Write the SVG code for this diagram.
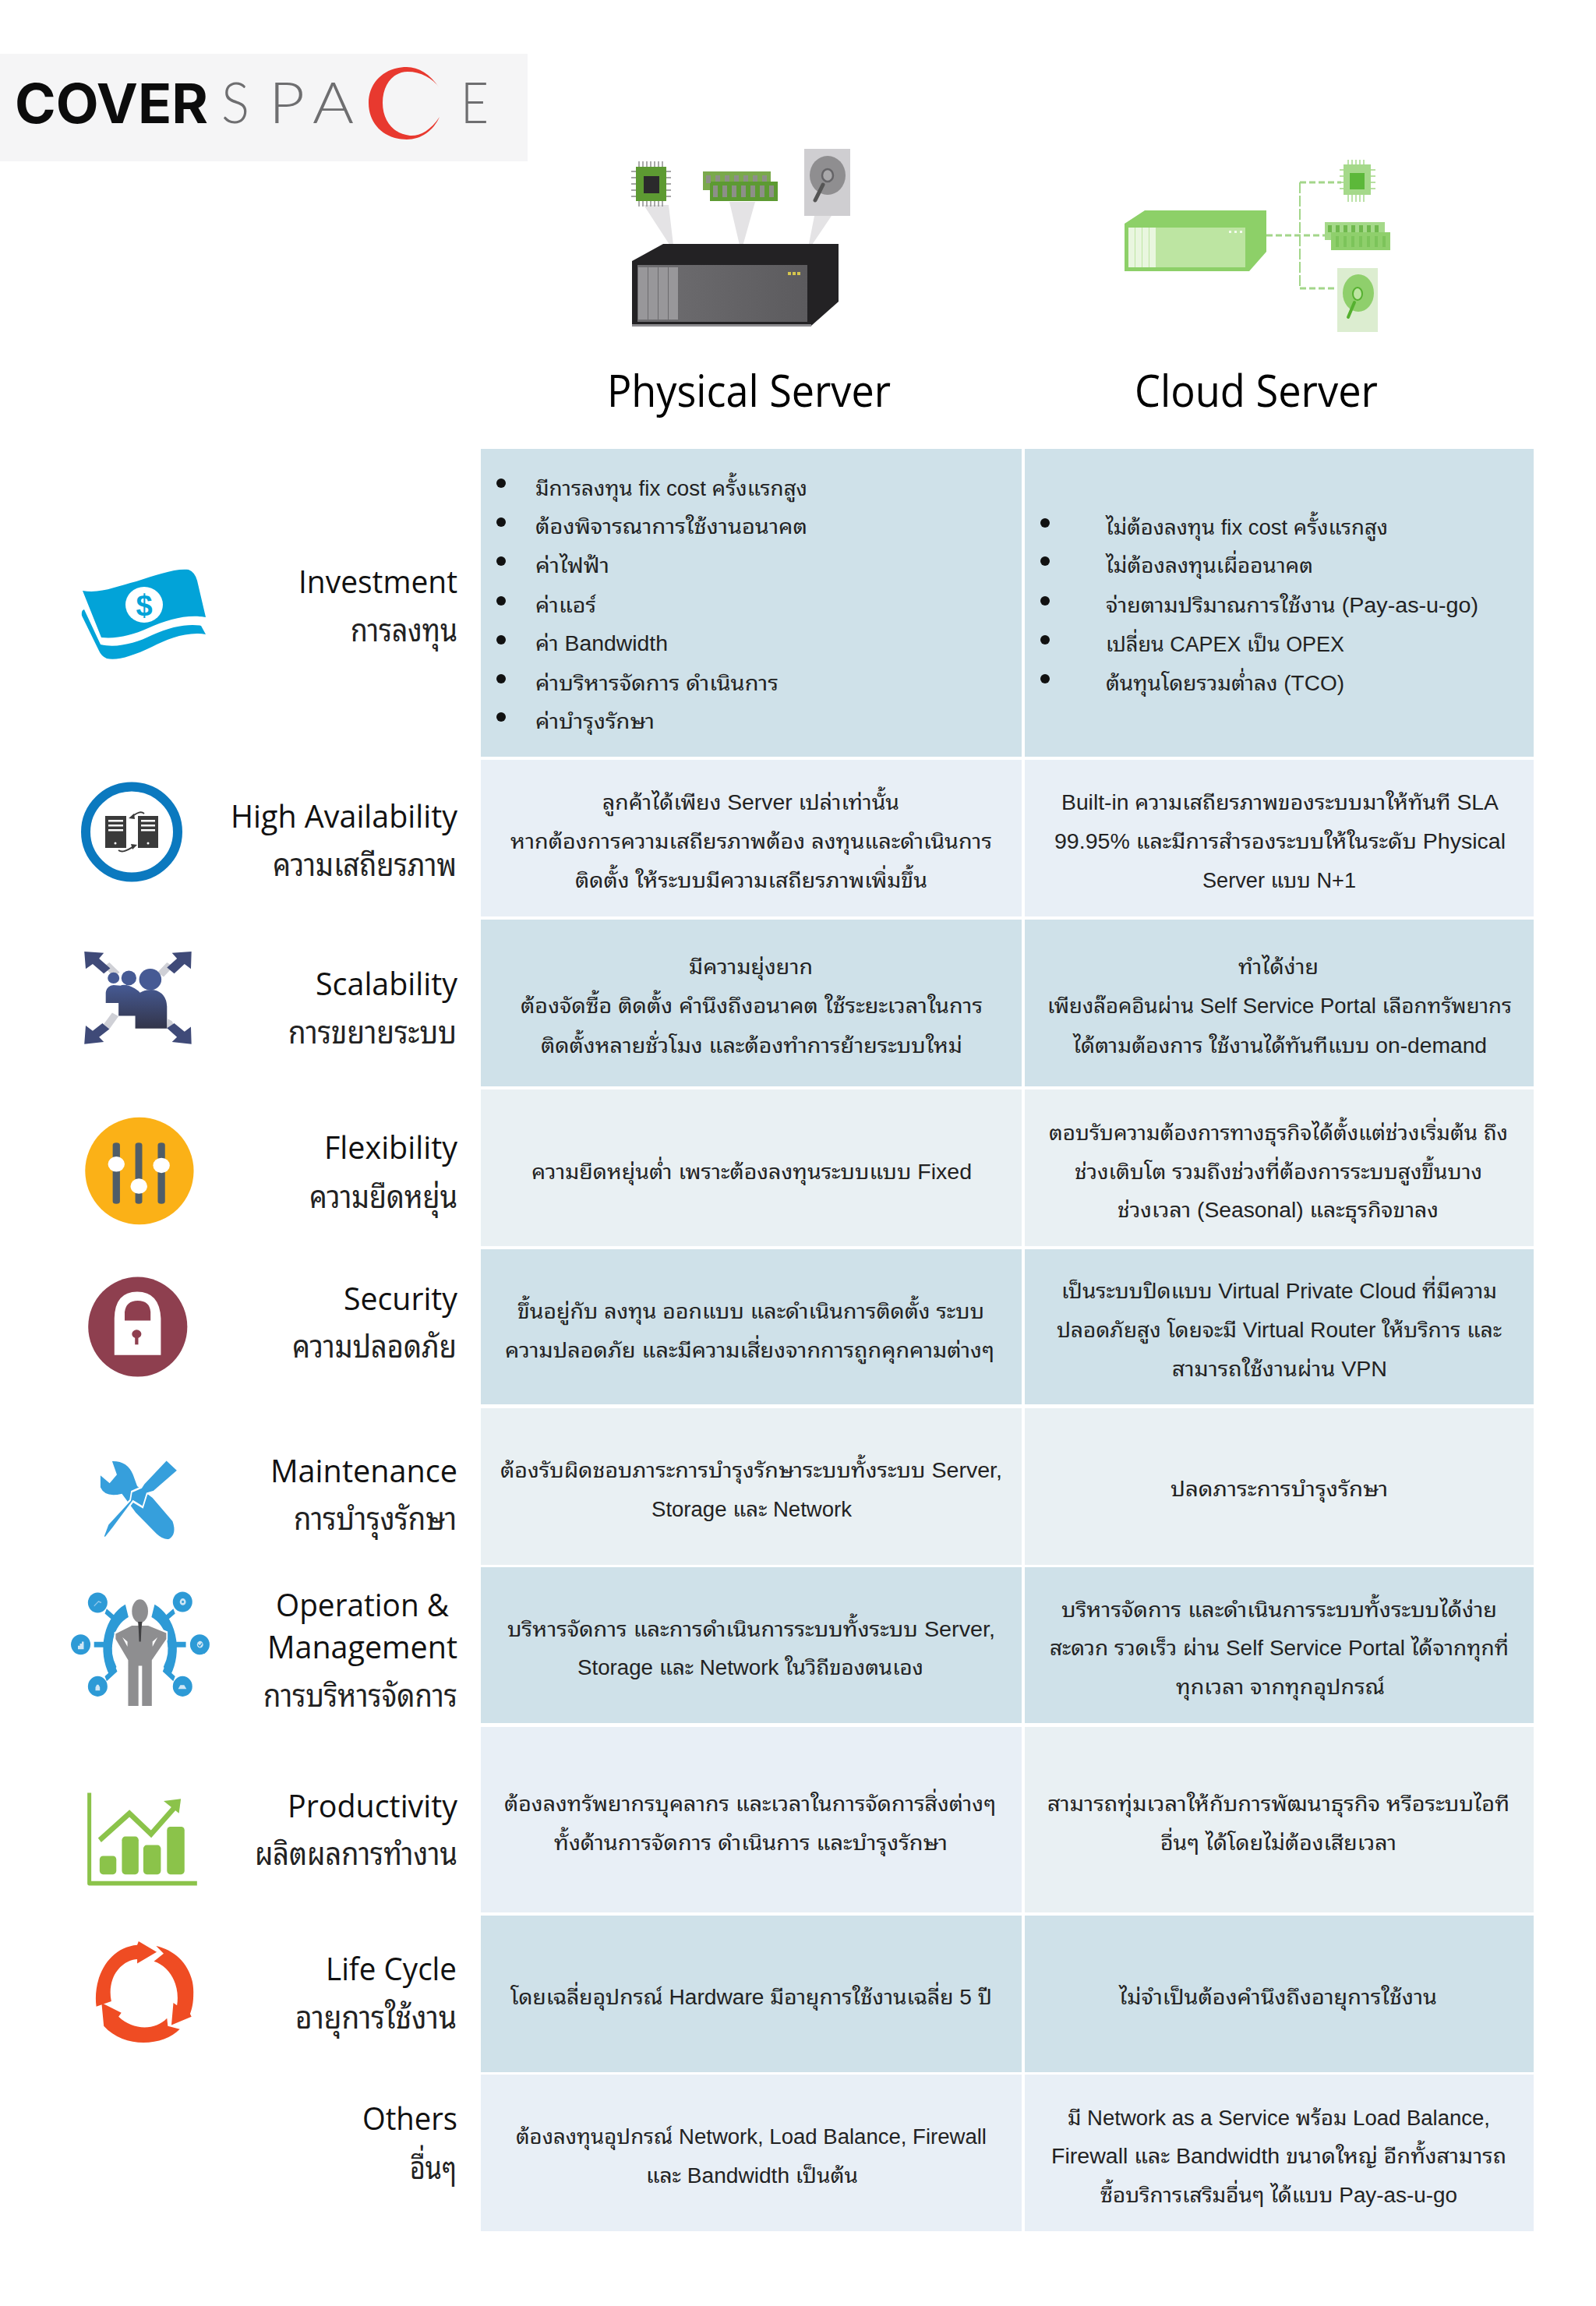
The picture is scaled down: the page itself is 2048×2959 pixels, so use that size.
<svg xmlns="http://www.w3.org/2000/svg" width="2048" height="2959" viewBox="0 0 2048 2959">
<defs>
<style>
.d{fill:#cfe1e9}.l{fill:#e8eff6}.m{fill:#e9f0f3}
.b{font-family:"Liberation Sans","Noto Sans Thai Looped","Noto Serif Thai",Loma,Garuda,"Noto Sans",sans-serif;font-size:27px;fill:#222}
.h{font-family:"Open Sans","Noto Sans",sans-serif;font-size:40px;fill:#111}
.t{font-family:"Open Sans","Noto Sans Thai Looped","Noto Serif Thai",Loma,Garuda,"Noto Sans",sans-serif;font-size:41px;fill:#222}
.ti{font-family:"Open Sans","Noto Sans",sans-serif;font-size:56px;fill:#000}
.g{font-family:Lato,Inter,sans-serif;font-size:72px;font-weight:300;fill:#6e6e70}
.dash{fill:none;stroke:#a3d68a}
</style>
<linearGradient id="sg" x1="0" y1="0" x2="0" y2="1"><stop offset="0" stop-color="#465a94"/><stop offset="1" stop-color="#33354a"/></linearGradient>
<linearGradient id="pg" x1="0" y1="0" x2="1" y2="0"><stop offset="0" stop-color="#6f6e71"/><stop offset="1" stop-color="#5c5b5e"/></linearGradient>
</defs>
<rect width="2048" height="2959" fill="#fff"/>

<g id="logo">
<rect x="0" y="69" width="677" height="138" fill="#f5f5f6"/>
<text x="19" y="158" font-family="Inter,Lato,sans-serif" font-size="70" font-weight="700" fill="#0c0c0c" textLength="248" lengthAdjust="spacingAndGlyphs">COVER</text>
<text class="g" x="284" y="158" textLength="36" lengthAdjust="spacingAndGlyphs">S</text>
<text class="g" x="345" y="158" textLength="46" lengthAdjust="spacingAndGlyphs">P</text>
<text class="g" x="401" y="158" textLength="53" lengthAdjust="spacingAndGlyphs">A</text>
<path d="M564,113C552,95 537,86 522,86C494,86 473,105 473,132C473,160 494,179 522,179C540,179 556,168 564,150C552,168 538,175 526,174C505,172 491,155 491,132C491,108 505,92 523,92C540,92 555,100 564,113Z" fill="#e8392f"/>
<text class="g" x="591" y="158" textLength="36" lengthAdjust="spacingAndGlyphs">E</text>
</g>

<g id="physical-server">
<path d="M826,263H858L865,323ZM936,259H969L951,323ZM1045,277H1067L1036,323Z" fill="#e4e3e5"/>
<path d="M811,335L851,313H1076V387L1041,418H811Z" fill="#232224"/>
<rect x="818" y="340" width="218" height="73" fill="url(#pg)"/>
<path d="M819,343h12v67h-12zM832,343h12v67h-12zM845,343h12v67h-12zM858,343h12v67h-12z" fill="#98979a"/>
<rect x="811" y="416" width="230" height="3" fill="#8d8c8f"/>
<path d="M1011,349h4v4h-4zM1017,349h4v4h-4zM1023,349h4v4h-4z" fill="#d6c64e"/>
<path d="M820,207v58M825,207v58M830,207v58M835,207v58M840,207v58M845,207v58M850,207v58" stroke="#8f8f8f" stroke-width="1.500"/>
<path d="M810,220h51M810,228h51M810,236h51M810,244h51M810,252h51" stroke="#a5a5a5" stroke-width="2"/>
<rect x="816" y="214" width="39" height="44" fill="#5d9a32"/>
<rect x="826" y="226" width="20" height="22" fill="#2b2a2c"/>
<rect x="902" y="220" width="87" height="24" fill="#7aa94c"/>
<rect x="911" y="233" width="87" height="25" fill="#5d9a32"/>
<g fill="#8d8f88"><rect x="906" y="225" width="6" height="10"/><rect x="918" y="225" width="6" height="8"/><rect x="930" y="225" width="6" height="8"/><rect x="942" y="225" width="6" height="8"/><rect x="954" y="225" width="6" height="8"/><rect x="966" y="225" width="6" height="8"/><rect x="978" y="225" width="6" height="8"/><rect x="915" y="238" width="6" height="15"/><rect x="927" y="238" width="6" height="15"/><rect x="939" y="238" width="6" height="15"/><rect x="951" y="238" width="6" height="15"/><rect x="963" y="238" width="6" height="15"/><rect x="975" y="238" width="6" height="15"/><rect x="987" y="238" width="6" height="15"/></g>
<rect x="1032" y="191" width="59" height="86" fill="#cfced1"/>
<ellipse cx="1062" cy="225" rx="23" ry="25" fill="#8f8e90"/>
<ellipse cx="1062" cy="225" rx="7" ry="8" fill="#a9a8aa" stroke="#656467" stroke-width="2.500"/>
<path d="M1056,237L1046,257" stroke="#555" stroke-width="5" stroke-linecap="round"/>
</g>

<g id="cloud-server">
<path d="M1443,287L1469,270H1625V323L1603,348H1443Z" fill="#8dd068"/>
<rect x="1448" y="292" width="150" height="51" fill="#bde5a2"/>
<path d="M1448,292h8v51h-8zM1457,292h8v51h-8zM1466,292h8v51h-8zM1475,292h8v51h-8z" fill="#e9f6df"/>
<path d="M1577,296h3v3h-3zM1584,296h3v3h-3zM1591,296h3v3h-3z" fill="#f3faee"/>
<path d="M1730,205v54M1735,205v54M1740,205v54M1745,205v54M1750,205v54" stroke="#a5d98a" stroke-width="1.500"/>
<path d="M1719,218h46M1719,226h46M1719,234h46M1719,242h46" stroke="#b9e0a2" stroke-width="2"/>
<rect x="1724" y="211" width="35" height="39" fill="#a5d98a"/>
<rect x="1732" y="222" width="19" height="21" fill="#5cb83a"/>
<rect x="1700" y="285" width="77" height="23" fill="#a5d98a"/>
<rect x="1708" y="298" width="76" height="23" fill="#8fcf6c"/>
<path d="M1704,289h5v9h-5zM1714,289h5v9h-5zM1724,289h5v9h-5zM1734,289h5v9h-5zM1744,289h5v9h-5zM1754,289h5v9h-5zM1764,289h5v9h-5z" fill="#6fb84d"/>
<path d="M1714,303h4v14h-4zM1724,303h4v14h-4zM1734,303h4v14h-4zM1744,303h4v14h-4zM1754,303h4v14h-4zM1764,303h4v14h-4zM1774,303h4v14h-4z" fill="#7cc45a"/>
<rect x="1716" y="344" width="52" height="82" fill="#dcedd0"/>
<ellipse cx="1743" cy="376" rx="20" ry="24" fill="#8fcf6c"/>
<ellipse cx="1742" cy="377" rx="6" ry="8" fill="#bde5a2" stroke="#55b030" stroke-width="2"/>
<path d="M1738,388L1730,407" stroke="#55b030" stroke-width="4" stroke-linecap="round"/>
</g>

<g id="connectors">
<path class="dash" d="M1625,302H1701M1668,234H1721M1668,370H1716" stroke-width="3" stroke-dasharray="8 4"/>
<path class="dash" d="M1668,234V370" stroke-width="2" stroke-dasharray="14 3"/>
</g>

<g id="headings">
<text class="ti" x="779" y="522" textLength="364" lengthAdjust="spacingAndGlyphs">Physical Server</text>
<text class="ti" x="1456" y="522" textLength="312" lengthAdjust="spacingAndGlyphs">Cloud Server</text>
</g>

<g id="row-investment">
<rect class="d" x="617" y="576" width="694" height="395"/><rect class="d" x="1315" y="576" width="653" height="395"/>
<g fill="#111"><circle cx="643" cy="620" r="6"/><circle cx="643" cy="670" r="6"/><circle cx="643" cy="720" r="6"/><circle cx="643" cy="771" r="6"/><circle cx="643" cy="821" r="6"/><circle cx="643" cy="871" r="6"/><circle cx="643" cy="920" r="6"/><circle cx="1341" cy="671" r="6"/><circle cx="1341" cy="720" r="6"/><circle cx="1341" cy="771" r="6"/><circle cx="1341" cy="821" r="6"/><circle cx="1341" cy="871" r="6"/></g>
<text class="b" x="687" y="636" textLength="349" lengthAdjust="spacingAndGlyphs">มีการลงทุน fix cost ครั้งแรกสูง</text>
<text class="b" x="687" y="685" textLength="349" lengthAdjust="spacingAndGlyphs">ต้องพิจารณาการใช้งานอนาคต</text>
<text class="b" x="687" y="735" textLength="95" lengthAdjust="spacingAndGlyphs">ค่าไฟฟ้า</text>
<text class="b" x="687" y="786" textLength="78" lengthAdjust="spacingAndGlyphs">ค่าแอร์</text>
<text class="b" x="687" y="835" textLength="170" lengthAdjust="spacingAndGlyphs">ค่า Bandwidth</text>
<text class="b" x="687" y="886" textLength="312" lengthAdjust="spacingAndGlyphs">ค่าบริหารจัดการ ดำเนินการ</text>
<text class="b" x="687" y="935" textLength="153" lengthAdjust="spacingAndGlyphs">ค่าบำรุงรักษา</text>
<text class="b" x="1419" y="686" textLength="362" lengthAdjust="spacingAndGlyphs">ไม่ต้องลงทุน fix cost ครั้งแรกสูง</text>
<text class="b" x="1419" y="735" textLength="266" lengthAdjust="spacingAndGlyphs">ไม่ต้องลงทุนเผื่ออนาคต</text>
<text class="b" x="1419" y="786" textLength="478" lengthAdjust="spacingAndGlyphs">จ่ายตามปริมาณการใช้งาน (Pay-as-u-go)</text>
<text class="b" x="1419" y="836" textLength="306" lengthAdjust="spacingAndGlyphs">เปลี่ยน CAPEX เป็น OPEX</text>
<text class="b" x="1419" y="886" textLength="306" lengthAdjust="spacingAndGlyphs">ต้นทุนโดยรวมต่ำลง (TCO)</text>
<text class="h" x="383" y="761" textLength="204" lengthAdjust="spacingAndGlyphs">Investment</text>
<text class="t" x="450" y="823" textLength="137" lengthAdjust="spacingAndGlyphs">การลงทุน</text>
<g fill="#02a3d8">
<path d="M106,758C130,762 150,752 175,746C200,738 225,729 242,731Q250,734 253,745L264,792C240,788 215,795 190,806C170,815 150,820 130,818Z"/>
<path d="M108,782L129,827C150,832 175,825 195,815C220,803 245,800 258,803L264,814C240,810 215,820 195,830C170,842 150,848 137,845Q130,842 127,835L105,790Q104,783 108,782Z"/>
</g>
<ellipse cx="185" cy="776" rx="24" ry="23" fill="#fff"/>
<text x="185" y="790" text-anchor="middle" font-family="Liberation Sans,sans-serif" font-weight="700" font-size="38" fill="#02a3d8">$</text>
</g>

<g id="row-availability">
<rect class="l" x="617" y="975" width="694" height="201"/><rect class="l" x="1315" y="975" width="653" height="201"/>
<text class="b" x="773" y="1039" textLength="381" lengthAdjust="spacingAndGlyphs">ลูกค้าได้เพียง Server เปล่าเท่านั้น</text>
<text class="b" x="655" y="1089" textLength="618" lengthAdjust="spacingAndGlyphs">หากต้องการความเสถียรภาพต้อง ลงทุนและดำเนินการ</text>
<text class="b" x="738" y="1139" textLength="452" lengthAdjust="spacingAndGlyphs">ติดตั้ง ให้ระบบมีความเสถียรภาพเพิ่มขึ้น</text>
<text class="b" x="1362" y="1039" textLength="561" lengthAdjust="spacingAndGlyphs">Built-in ความเสถียรภาพของระบบมาให้ทันที SLA</text>
<text class="b" x="1353" y="1089" textLength="579" lengthAdjust="spacingAndGlyphs">99.95% และมีการสำรองระบบให้ในระดับ Physical</text>
<text class="b" x="1543" y="1139" textLength="197" lengthAdjust="spacingAndGlyphs">Server แบบ N+1</text>
<text class="h" x="296" y="1062" textLength="291" lengthAdjust="spacingAndGlyphs">High Availability</text>
<text class="t" x="350" y="1124" textLength="236" lengthAdjust="spacingAndGlyphs">ความเสถียรภาพ</text>
<ellipse cx="169" cy="1067.500" rx="59" ry="58" fill="#fff" stroke="#0b79bf" stroke-width="12"/>
<path d="M135,1047h27v41h-27zM177,1047h26v41h-26z" fill="#3a3a3a"/>
<path d="M139,1052h19v2.500h-19zM139,1058h19v2.500h-19zM139,1064h19v2.500h-19zM181,1052h18v2.500h-18zM181,1058h18v2.500h-18zM181,1064h18v2.500h-18z" fill="#fff"/>
<circle cx="148" cy="1082" r="1.500" fill="#fff"/><circle cx="190" cy="1082" r="1.500" fill="#fff"/>
<path d="M185,1044C180,1040 175,1044 170,1047M152,1091C158,1095 164,1090 172,1086" fill="none" stroke="#3a3a3a" stroke-width="2"/>
<path d="M165,1050L172,1044L173,1051ZM176,1084L168,1083L170,1090Z" fill="#3a3a3a"/>
</g>

<g id="row-scalability">
<rect class="d" x="617" y="1180" width="694" height="214"/><rect class="d" x="1315" y="1180" width="653" height="214"/>
<text class="b" x="884" y="1250" textLength="159" lengthAdjust="spacingAndGlyphs">มีความยุ่งยาก</text>
<text class="b" x="668" y="1300" textLength="593" lengthAdjust="spacingAndGlyphs">ต้องจัดซื้อ ติดตั้ง คำนึงถึงอนาคต ใช้ระยะเวลาในการ</text>
<text class="b" x="694" y="1351" textLength="541" lengthAdjust="spacingAndGlyphs">ติดตั้งหลายชั่วโมง และต้องทำการย้ายระบบใหม่</text>
<text class="b" x="1589" y="1250" textLength="103" lengthAdjust="spacingAndGlyphs">ทำได้ง่าย</text>
<text class="b" x="1344" y="1300" textLength="596" lengthAdjust="spacingAndGlyphs">เพียงล๊อคอินผ่าน Self Service Portal เลือกทรัพยากร</text>
<text class="b" x="1377" y="1351" textLength="531" lengthAdjust="spacingAndGlyphs">ได้ตามต้องการ ใช้งานได้ทันทีแบบ on-demand</text>
<text class="h" x="405" y="1277" textLength="182" lengthAdjust="spacingAndGlyphs">Scalability</text>
<text class="t" x="370" y="1339" textLength="216" lengthAdjust="spacingAndGlyphs">การขยายระบบ</text>
<g transform="translate(60 680) scale(.3571 .4464)">
<path d="M205,1255L225,1243L262,1272L240,1285ZM455,1255L432,1243L398,1272L420,1285ZM205,1420L225,1435L258,1398L235,1388ZM455,1420L432,1435L435,1405L450,1412Z" fill="#cfd0d6"/>
<path d="M135,1212L205,1216L188,1232L228,1260L205,1275L165,1248L140,1262ZM520,1212L450,1216L468,1232L432,1258L458,1275L495,1248L518,1262ZM135,1478L205,1472L188,1458L225,1435L200,1418L165,1440L140,1425ZM520,1478L450,1472L468,1458L432,1432L458,1418L495,1442L518,1428Z" fill="#3f4a78"/>
<ellipse cx="240" cy="1288" rx="21" ry="16" fill="#465a94"/>
<ellipse cx="295" cy="1288" rx="27" ry="21" fill="#465a94"/>
<ellipse cx="372" cy="1292" rx="40" ry="31" fill="#465a94"/>
<path d="M212,1360V1330Q215,1310 240,1308L265,1310Q275,1305 295,1310Q325,1320 335,1330Q355,1320 385,1322Q430,1330 432,1370V1433H318V1397H258V1360Z" fill="url(#sg)"/>
</g>
</g>

<g id="row-flexibility">
<rect class="m" x="617" y="1398" width="694" height="201"/><rect class="m" x="1315" y="1398" width="653" height="201"/>
<text class="b" x="682" y="1513" textLength="565" lengthAdjust="spacingAndGlyphs">ความยืดหยุ่นต่ำ เพราะต้องลงทุนระบบแบบ Fixed</text>
<text class="b" x="1346" y="1463" textLength="589" lengthAdjust="spacingAndGlyphs">ตอบรับความต้องการทางธุรกิจได้ตั้งแต่ช่วงเริ่มต้น ถึง</text>
<text class="b" x="1379" y="1513" textLength="523" lengthAdjust="spacingAndGlyphs">ช่วงเติบโต รวมถึงช่วงที่ต้องการระบบสูงขึ้นบาง</text>
<text class="b" x="1434" y="1562" textLength="412" lengthAdjust="spacingAndGlyphs">ช่วงเวลา (Seasonal) และธุรกิจขาลง</text>
<text class="h" x="416" y="1487" textLength="171" lengthAdjust="spacingAndGlyphs">Flexibility</text>
<text class="t" x="397" y="1550" textLength="190" lengthAdjust="spacingAndGlyphs">ความยืดหยุ่น</text>
<g transform="translate(60 1380) scale(.3571 .5421)">
<ellipse cx="333" cy="226" rx="195" ry="127" fill="#fbb117"/>
<path d="M237,165a13,6 0 0 1 26,0V298a13,6 0 0 1 -26,0ZM318,165a12.500,6 0 0 1 25,0V298a12.500,6 0 0 1 -25,0ZM399,165a13,6 0 0 1 26,0V298a13,6 0 0 1 -26,0Z" fill="#4f5d68"/>
<g fill="#fff"><ellipse cx="250" cy="210" rx="30" ry="18"/><ellipse cx="331" cy="262" rx="30" ry="18"/><ellipse cx="412" cy="213" rx="30" ry="18"/></g>
</g>
</g>

<g id="row-security">
<rect class="d" x="617" y="1603" width="694" height="199"/><rect class="d" x="1315" y="1603" width="653" height="199"/>
<text class="b" x="664" y="1692" textLength="599" lengthAdjust="spacingAndGlyphs">ขึ้นอยู่กับ ลงทุน ออกแบบ และดำเนินการติดตั้ง ระบบ</text>
<text class="b" x="648" y="1742" textLength="628" lengthAdjust="spacingAndGlyphs">ความปลอดภัย และมีความเสี่ยงจากการถูกคุกคามต่างๆ</text>
<text class="b" x="1362" y="1666" textLength="559" lengthAdjust="spacingAndGlyphs">เป็นระบบปิดแบบ Virtual Private Cloud ที่มีความ</text>
<text class="b" x="1356" y="1716" textLength="571" lengthAdjust="spacingAndGlyphs">ปลอดภัยสูง โดยจะมี Virtual Router ให้บริการ และ</text>
<text class="b" x="1504" y="1766" textLength="276" lengthAdjust="spacingAndGlyphs">สามารถใช้งานผ่าน VPN</text>
<text class="h" x="441" y="1681" textLength="146" lengthAdjust="spacingAndGlyphs">Security</text>
<text class="t" x="375" y="1742" textLength="211" lengthAdjust="spacingAndGlyphs">ความปลอดภัย</text>
<g transform="translate(60 1380) scale(.3571 .5421)">
<ellipse cx="327" cy="595" rx="178" ry="118" fill="#8e3f4f"/>
<path d="M243,662V575Q245,512 325,512Q405,512 410,575V662Z" fill="#fff"/>
<path d="M280,580V560Q285,533 327,533Q370,533 373,560V580Z" fill="#8e3f4f"/>
<ellipse cx="323" cy="612" rx="17" ry="10" fill="#8e3f4f"/>
<rect x="317" y="612" width="12" height="25" fill="#8e3f4f"/>
</g>
</g>

<g id="row-maintenance">
<rect class="m" x="617" y="1807" width="694" height="201"/><rect class="m" x="1315" y="1807" width="653" height="201"/>
<text class="b" x="642" y="1896" textLength="644" lengthAdjust="spacingAndGlyphs">ต้องรับผิดชอบภาระการบำรุงรักษาระบบทั้งระบบ Server,</text>
<text class="b" x="836" y="1946" textLength="257" lengthAdjust="spacingAndGlyphs">Storage และ Network</text>
<text class="b" x="1502" y="1920" textLength="279" lengthAdjust="spacingAndGlyphs">ปลดภาระการบำรุงรักษา</text>
<text class="h" x="347" y="1902" textLength="240" lengthAdjust="spacingAndGlyphs">Maintenance</text>
<text class="t" x="377" y="1963" textLength="209" lengthAdjust="spacingAndGlyphs">การบำรุงรักษา</text>
<g transform="translate(60 1380) scale(.3571 .5421)" fill="#369fdc">
<path d="M193,947L226,965L252,945L235,913Q290,912 310,945L325,972L380,1000L452,1055Q468,1085 440,1097Q420,1100 395,1085L320,1035L270,990Q210,1000 193,975Z"/>
<path d="M430,909L472,935L385,985L360,990L345,1022L310,1008L240,1070L210,1095L203,1092L220,1062L300,1005L305,985L340,975L350,965Z" stroke="#fff" stroke-width="5"/>
</g>
</g>

<g id="row-operation">
<rect class="d" x="617" y="2011" width="694" height="200"/><rect class="d" x="1315" y="2011" width="653" height="200"/>
<text class="b" x="651" y="2100" textLength="626" lengthAdjust="spacingAndGlyphs">บริหารจัดการ และการดำเนินการระบบทั้งระบบ Server,</text>
<text class="b" x="741" y="2149" textLength="444" lengthAdjust="spacingAndGlyphs">Storage และ Network ในวิถีของตนเอง</text>
<text class="b" x="1362" y="2075" textLength="559" lengthAdjust="spacingAndGlyphs">บริหารจัดการ และดำเนินการระบบทั้งระบบได้ง่าย</text>
<text class="b" x="1347" y="2124" textLength="589" lengthAdjust="spacingAndGlyphs">สะดวก รวดเร็ว ผ่าน Self Service Portal ได้จากทุกที่</text>
<text class="b" x="1509" y="2174" textLength="268" lengthAdjust="spacingAndGlyphs">ทุกเวลา จากทุกอุปกรณ์</text>
<text class="h" x="354" y="2074" textLength="222" lengthAdjust="spacingAndGlyphs">Operation &amp;</text>
<text class="h" x="343" y="2128" textLength="244" lengthAdjust="spacingAndGlyphs">Management</text>
<text class="t" x="338" y="2190" textLength="249" lengthAdjust="spacingAndGlyphs">การบริหารจัดการ</text>
<g transform="translate(60 1380) scale(.3571 .5421)">
<g fill="none" stroke="#2d9ad6">
<path d="M288,1267A118,98 0 0 0 238,1410M382,1267A118,98 0 0 1 432,1410" stroke-width="32"/>
<path d="M170,1347H235M435,1347H500M212,1268L250,1290M458,1268L420,1290M212,1428L250,1405M458,1428L420,1405" stroke-width="13"/>
</g>
<g fill="#2d9ad6"><ellipse cx="183" cy="1248" rx="35" ry="24"/><ellipse cx="488" cy="1246" rx="35" ry="24"/><ellipse cx="122" cy="1347" rx="35" ry="24"/><ellipse cx="550" cy="1347" rx="35" ry="24"/><ellipse cx="183" cy="1446" rx="35" ry="24"/><ellipse cx="488" cy="1446" rx="35" ry="24"/></g>
<g fill="#cfe6f5"><path d="M112,1358v-8h7v-5h7v-5h7v18ZM175,1456v-8l5,-6h6l5,6v8ZM472,1452l8,-9h14l8,9Z"/><ellipse cx="489" cy="1246" rx="11" ry="8"/><ellipse cx="551" cy="1347" rx="11" ry="8"/></g>
<path d="M170,1256L186,1245L196,1248" fill="none" stroke="#8ec6ea" stroke-width="3"/>
<ellipse cx="489" cy="1246" rx="4" ry="3" fill="#2d9ad6"/>
<path d="M544,1347l6,4l8,-7" fill="none" stroke="#2d9ad6" stroke-width="3"/>
<ellipse cx="335" cy="1268" rx="29" ry="28" fill="#8e8e90"/>
<path d="M305,1300L245,1320V1335L290,1385V1495H332V1400H340V1495H380V1385L432,1335V1318L365,1300Z" fill="#8e8e90" stroke="#fff" stroke-width="5"/>
<path d="M272,1330L290,1340V1352ZM398,1330L380,1340V1352Z" fill="#fff"/>
<path d="M328,1293H343L340,1310L338,1340L332,1340L330,1310Z" fill="#3f3f41"/>
</g>
</g>

<g id="row-productivity">
<rect class="l" x="617" y="2216" width="694" height="238"/><rect class="m" x="1315" y="2216" width="653" height="238"/>
<text class="b" x="647" y="2324" textLength="631" lengthAdjust="spacingAndGlyphs">ต้องลงทรัพยากรบุคลากร และเวลาในการจัดการสิ่งต่างๆ</text>
<text class="b" x="711" y="2374" textLength="505" lengthAdjust="spacingAndGlyphs">ทั้งด้านการจัดการ ดำเนินการ และบำรุงรักษา</text>
<text class="b" x="1344" y="2324" textLength="593" lengthAdjust="spacingAndGlyphs">สามารถทุ่มเวลาให้กับการพัฒนาธุรกิจ หรือระบบไอที</text>
<text class="b" x="1489" y="2374" textLength="303" lengthAdjust="spacingAndGlyphs">อื่นๆ ได้โดยไม่ต้องเสียเวลา</text>
<text class="h" x="369" y="2332" textLength="218" lengthAdjust="spacingAndGlyphs">Productivity</text>
<text class="t" x="327" y="2393" textLength="260" lengthAdjust="spacingAndGlyphs">ผลิตผลการทำงาน</text>
<g transform="translate(60 2230) scale(.3571 .3954)">
<path d="M153,178V472H540" fill="none" stroke="#8bc34a" stroke-width="14" stroke-linejoin="round"/>
<g fill="#8bc34a"><rect x="190" y="383" width="60" height="60" rx="12"/><rect x="270" y="320" width="60" height="123" rx="12"/><rect x="347" y="348" width="63" height="95" rx="12"/><rect x="432" y="288" width="63" height="155" rx="12"/>
<path d="M420,205L482,198L475,245Z"/></g>
<path d="M190,332L297,245L375,312L460,225" fill="none" stroke="#8bc34a" stroke-width="18"/>
</g>
</g>

<g id="row-lifecycle">
<rect class="d" x="617" y="2458" width="694" height="201"/><rect class="d" x="1315" y="2458" width="653" height="201"/>
<text class="b" x="655" y="2572" textLength="618" lengthAdjust="spacingAndGlyphs">โดยเฉลี่ยอุปกรณ์ Hardware มีอายุการใช้งานเฉลี่ย 5 ปี</text>
<text class="b" x="1436" y="2572" textLength="408" lengthAdjust="spacingAndGlyphs">ไม่จำเป็นต้องคำนึงถึงอายุการใช้งาน</text>
<text class="h" x="418" y="2541" textLength="168" lengthAdjust="spacingAndGlyphs">Life Cycle</text>
<text class="t" x="379" y="2603" textLength="207" lengthAdjust="spacingAndGlyphs">อายุการใช้งาน</text>
<g transform="translate(60 2230) scale(.3571 .3954)" fill="#ef4c23">
<path d="M178,872C165,780 220,680 325,672L330,660L395,695L325,732L325,718C265,722 215,780 232,855Z"/>
<path d="M393,675C470,690 530,750 527,830C527,860 522,880 515,895L520,905L448,932L455,860L468,868C480,800 440,740 385,725L420,700Z"/>
<path d="M478,945C420,1000 280,1010 205,935L197,860L268,892L258,905C310,950 390,950 432,910L435,935Z"/>
</g>
</g>

<g id="row-others">
<rect class="l" x="617" y="2662" width="694" height="201"/><rect class="l" x="1315" y="2662" width="653" height="201"/>
<text class="b" x="662" y="2751" textLength="604" lengthAdjust="spacingAndGlyphs">ต้องลงทุนอุปกรณ์ Network, Load Balance, Firewall</text>
<text class="b" x="829" y="2801" textLength="272" lengthAdjust="spacingAndGlyphs">และ Bandwidth เป็นต้น</text>
<text class="b" x="1370" y="2727" textLength="542" lengthAdjust="spacingAndGlyphs">มี Network as a Service พร้อม Load Balance,</text>
<text class="b" x="1349" y="2776" textLength="584" lengthAdjust="spacingAndGlyphs">Firewall  และ Bandwidth ขนาดใหญ่ อีกทั้งสามารถ</text>
<text class="b" x="1412" y="2826" textLength="458" lengthAdjust="spacingAndGlyphs">ซื้อบริการเสริมอื่นๆ ได้แบบ Pay-as-u-go</text>
<text class="h" x="465" y="2733" textLength="122" lengthAdjust="spacingAndGlyphs">Others</text>
<text class="t" x="526" y="2796" textLength="60" lengthAdjust="spacingAndGlyphs">อื่นๆ</text>
</g>
</svg>
